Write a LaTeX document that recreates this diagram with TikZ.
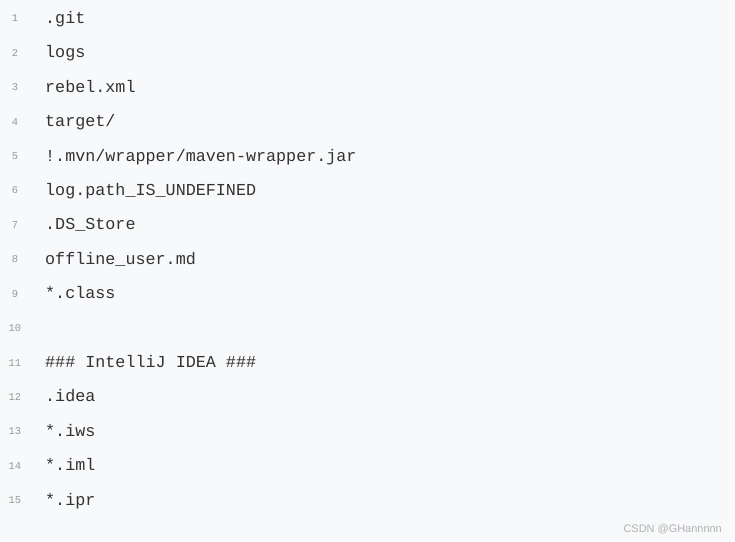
\documentclass[tikz,border=0pt]{standalone}
\usepackage{fontspec}
\setmainfont{Liberation Sans}
\newfontfamily\codefont{Liberation Mono}
\usepackage{xcolor}
\definecolor{codebg}{HTML}{F8F9FB}
\definecolor{numgray}{HTML}{999999}
\definecolor{codetext}{HTML}{333333}
\usetikzlibrary{positioning}

\begin{document}
\begin{tikzpicture}[
    x=1bp, y=-1bp,
    codeline/.style={anchor=base west, inner sep=0pt, font=\codefont\fontsize{16.8}{18}\selectfont, text=codetext},
    linenum/.style={anchor=base, inner sep=0pt, font=\codefont\fontsize{10.5}{12}\selectfont, text=numgray},
]
    % Background
    \fill[codebg] (0,0) rectangle (735,542);
    \useasboundingbox (0,0) rectangle (735,542);

    % Code lines
    \foreach \n/\txt in {1/.git, 2/logs, 3/rebel.xml, 4/{target/},
        5/{!.mvn/wrapper/maven-wrapper.jar}, 6/log.path\_IS\_UNDEFINED,
        7/.DS\_Store, 8/offline\_user.md, 9/*.class, 10/{},
        11/\#\#\# IntelliJ IDEA \#\#\#, 12/.idea, 13/*.iws, 14/*.iml, 15/*.ipr} {
        \node[linenum] (num\n) at (15, {22+(\n-1)*34.4}) {\n};
        \node[codeline] (line\n) at (45, {23.5+(\n-1)*34.4}) {\txt};
    }

    % Watermark
    \node[anchor=base east, inner sep=0pt, font=\fontsize{11}{12}\selectfont, text=black!30] (mark) at (722,532) {CSDN @GHannnnn};
\end{tikzpicture}
\end{document}
